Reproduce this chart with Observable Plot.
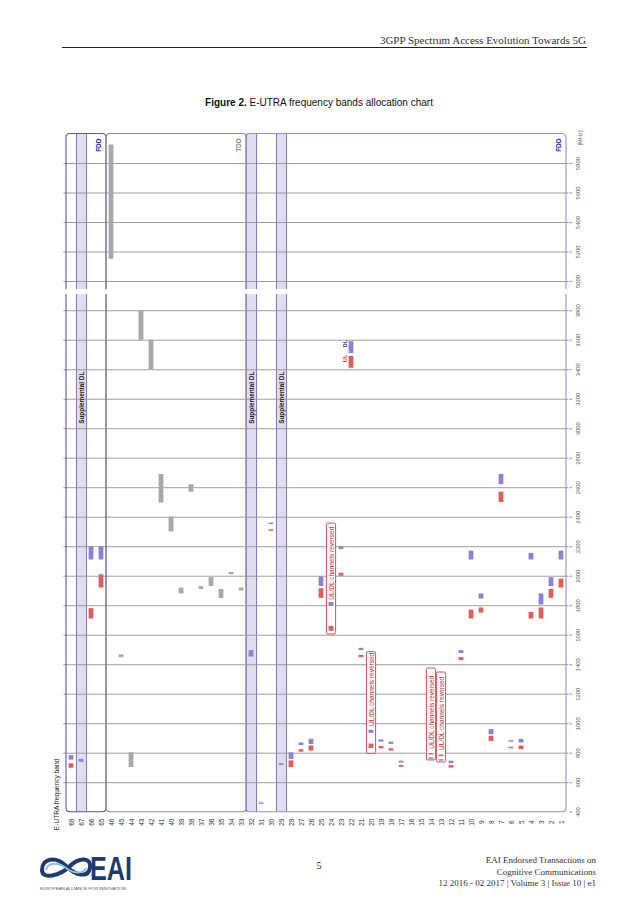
<!DOCTYPE html>
<html>
<head>
<meta charset="utf-8">
<script src="https://cdn.jsdelivr.net/npm/d3@7"></script>
<script src="https://cdn.jsdelivr.net/npm/@observablehq/plot@0.6"></script>
<style>
  html, body { margin: 0; padding: 0; background: #fff; overflow: hidden; }
  #page { position: relative; width: 638px; height: 903px; background: #fff; overflow: hidden; }
  .abs { position: absolute; }
  #header { right: 52px; top: 34px; font: 11px/12px "Liberation Serif", serif; color: #333; white-space: nowrap; }
  #hrule { left: 62px; top: 47px; width: 525px; height: 0; border-top: 1.5px solid #222; }
  #title { left: 0; top: 97px; width: 638px; text-align: center; font: 10px/12px "Liberation Sans", Arial, sans-serif; color: #111; }
  #upper { left: 0; top: 120px; }
  #lower { left: 0; top: 291px; }
  #pagenum { left: 0; top: 860px; width: 638px; text-align: center; font: 10px/12px "Liberation Serif", serif; color: #222; }
  #journal { right: 42px; top: 855px; text-align: right; font: 9px/11.5px "Liberation Serif", serif; color: #333; white-space: nowrap; }
  #logo { left: 36px; top: 846px; }
</style>
</head>
<body>
<div id="page">
  <div class="abs" id="header">3GPP Spectrum Access Evolution Towards 5G</div>
  <div class="abs" id="hrule"></div>
  <div class="abs" id="title"><b>Figure 2.</b> E-UTRA frequency bands allocation chart</div>
  <div class="abs" id="upper"></div>
  <div class="abs" id="lower"></div>
  <svg class="abs" id="logo" width="110" height="50" viewBox="0 0 110 50">
    <path d="M6,24 C6,12 20,10 30,20 C40,30 52,32 54,22 C56,12 44,10 34,20 C24,30 6,34 6,24 Z" fill="none" stroke="#1d3b6c" stroke-width="4"/>
    <path d="M10,24 C12,16 22,16 30,22 C38,28 48,28 50,22" fill="none" stroke="#8cc0e6" stroke-width="2"/>
    <text x="54" y="34" font-family="Liberation Sans, Arial" font-weight="bold" font-size="34" fill="#1d3b6c" textLength="42" lengthAdjust="spacingAndGlyphs">EAI</text>
    <text x="4" y="44" font-family="Liberation Sans, Arial" font-size="3.6" fill="#556" textLength="86" lengthAdjust="spacingAndGlyphs">EUROPEAN ALLIANCE FOR INNOVATION</text>
  </svg>
  <div class="abs" id="pagenum">5</div>
  <div class="abs" id="journal">EAI Endorsed Transactions on<br>Cognitive Communications<br>12 2016 - 02 2017 | Volume 3 | Issue 10 | e1</div>
</div>
<script>
// ---------------- data ----------------
const bandOrder = ["68","67","66","65","46","45","44","43","42","41","40","39","38","37","36","35","34","33","32","31","30","29","28","27","26","25","24","23","22","21","20","19","18","17","16","15","14","13","12","11","10","9","8","7","6","5","4","3","2","1"];

const fddLeftBands  = ["68","67","66","65"];
const tddBands      = ["46","45","44","43","42","41","40","39","38","37","36","35","34","33"];
const fddRightBands = ["32","31","30","29","28","27","26","25","24","23","22","21","20","19","18","17","16","15","14","13","12","11","10","9","8","7","6","5","4","3","2","1"];

// uplink (red)
const ulBands = ["1","2","3","4","5","6","7","8","9","10","11","12","13","14","17","18","19","20","21","22","23","24","25","26","27","28","30","31","65","66","68"];
const ulLow   = [1920,1850,1710,1710,824,830,2500,880,1750,1710,1428,699,777,788,704,815,830,832,1448,3410,2000,1626.5,1850,814,807,703,2305,452.5,1920,1710,698];
const ulHigh  = [1980,1910,1785,1755,849,840,2570,915,1785,1770,1448,716,787,798,716,830,845,862,1463,3490,2020,1660.5,1915,849,824,748,2315,457.5,2010,1780,728];

// downlink (purple)
const dlBands = ["1","2","3","4","5","6","7","8","9","10","11","12","13","14","17","18","19","20","21","22","23","24","25","26","27","28","29","30","31","32","65","66","67","68"];
const dlLow   = [2110,1930,1805,2110,869,875,2620,925,1845,2110,1476,729,746,758,734,860,875,935,1496,3510,2180,1795,1930,859,852,758,717,2350,462.5,1452,2110,2110,738,753];
const dlHigh  = [2170,1990,1880,2155,894,885,2690,960,1880,2170,1496,746,756,768,746,875,890,955,1511,3590,2200,1822,1995,894,869,803,728,2360,467.5,1496,2200,2200,758,783];

// TDD (grey)
const tddLow  = [5150,1447,703,3600,3400,2496,2300,1880,2570,1910,1930,1850,2010,1900];
const tddHigh = [5925,1467,803,3800,3600,2690,2400,1920,2620,1930,1990,1910,2025,1920];

// supplemental downlink columns
const sdlBands = ["67","32","29"];
const sdlLabel = "Supplemental DL";
const sdlLabelFreq = 3210;

// "UL/DL channels reversed" call-outs
const revBands     = ["24","20","14","13"];
const revLow       = [1605,796,751,737];
const revHigh      = [2357,1485,1374,1347];
const revTextStart = [1840,985,830,822];
const revLabel     = "UL/DL channels reversed";

const legendBand = "22";
const groupLabelText = ["FDD","TDD","FDD"];

const freqTicksLower = [400,600,800,1000,1200,1400,1600,1800,2000,2200,2400,2600,2800,3000,3200,3400,3600,3800];
const freqTicksUpper = [5000,5200,5400,5600,5800];
const lowerDomain = [400, 3910];
const upperDomain = [4945, 6000];

// ---------------- tables ----------------
const ulData  = ulBands.map((b,i) => ({band:b, lo:ulLow[i], hi:ulHigh[i]}));
const dlData  = dlBands.map((b,i) => ({band:b, lo:dlLow[i], hi:dlHigh[i]}));
const tddData = tddBands.map((b,i) => ({band:b, lo:tddLow[i], hi:tddHigh[i]}));
const revData = revBands.map((b,i) => ({band:b, lo:revLow[i], hi:revHigh[i], t:revTextStart[i]}));
const groups = [
  {bands: fddLeftBands,  stroke:"#5a55a6", label: groupLabelText[0], color:"#2323b5"},
  {bands: tddBands,      stroke:"#8e8e98", label: groupLabelText[1], color:"#8a8a8a"},
  {bands: fddRightBands, stroke:"#9591d0", label: groupLabelText[2], color:"#2323b5"}
];
const groupLabels = groups.map(g => ({band: g.bands[g.bands.length-1], text: g.label, color: g.color}));
const legendUL = ulData.filter(d => d.band === legendBand);
const legendDL = dlData.filter(d => d.band === legendBand);

const UL = "#e05d5d", DL = "#8e80d4", TDD = "#a8a8a8";
const inBand = dom => d => d.lo >= dom[0] && d.hi <= dom[1];

function frameMark(kind) {
  return (index, scales, values, dims) => {
    const {x, y} = scales;
    const bw = x.bandwidth();
    const g = d3.create("svg:g").attr("fill", "none");
    const top = dims.marginTop, bottom = dims.height - dims.marginBottom;
    const r = 4;
    for (const grp of groups) {
      const x0 = x(grp.bands[0]), x1 = x(grp.bands[grp.bands.length-1]) + bw;
      let d;
      if (kind === "upper") {
        const t = y(upperDomain[1]);
        d = `M${x0},${bottom}V${t+r}Q${x0},${t} ${x0+r},${t}H${x1-r}Q${x1},${t} ${x1},${t+r}V${bottom}`;
      } else {
        const b = y(lowerDomain[0]);
        d = `M${x0},${top}V${b-r}Q${x0},${b} ${x0+r},${b}H${x1-r}Q${x1},${b} ${x1},${b-r}V${top}`;
      }
      g.append("path").attr("d", d).attr("stroke", grp.stroke).attr("stroke-width", 1.1);
    }
    return g.node();
  };
}

const common = {
  width: 638,
  marginLeft: 63.25,
  marginRight: 69.75,
  x: {type: "band", domain: bandOrder, padding: 0, axis: null},
  style: {fontFamily: "Liberation Sans, Arial, sans-serif", background: "transparent"}
};

function sdlMarks(dom) {
  return [
    Plot.barY(sdlBands, {x: d => d, y1: dom[0], y2: dom[1], fill: "#e1ddef"}),
    Plot.ruleX(sdlBands, {x: d => d, y1: dom[0], y2: dom[1], dx: -5.05, stroke: "#7d75b9", strokeWidth: 1}),
    Plot.ruleX(sdlBands, {x: d => d, y1: dom[0], y2: dom[1], dx: 5.05, stroke: "#7d75b9", strokeWidth: 1})
  ];
}
function freqLabels(ticks) {
  return [
    Plot.axisY({anchor: "right", ticks, tickSize: 3, stroke: "#999", fill: "none", label: null, tickFormat: () => ""}),
    Plot.text(ticks, {y: d => d, frameAnchor: "right", dx: 9, rotate: -90, text: d => String(d), fontSize: 5.8, fill: "#555", textAnchor: "middle", lineAnchor: "middle"})
  ];
}

// ---------------- upper panel (5 GHz) ----------------
const upper = Plot.plot({
  ...common,
  height: 171,
  marginTop: 13.5,
  marginBottom: 1.9,
  y: {domain: upperDomain, axis: null},
  marks: [
    ...sdlMarks(upperDomain),
    Plot.gridY(freqTicksUpper, {stroke: "#939393", strokeOpacity: 1, strokeWidth: 0.9}),
    frameMark("upper"),
    Plot.barY(tddData.filter(inBand(upperDomain)), {x: "band", y1: "lo", y2: "hi", fill: TDD, insetLeft: 2.6, insetRight: 2.6}),
    Plot.text(groupLabels, {x: "band", frameAnchor: "top", dx: -3, dy: 4.5, rotate: -90, text: "text", textAnchor: "end", lineAnchor: "middle", fontSize: 6.5, fontWeight: "bold", fill: d => d.color}),
    ...freqLabels(freqTicksUpper),
    Plot.text(["[MHz]"], {frameAnchor: "top-right", dx: 9, dy: 4, rotate: -90, text: d => d, fontSize: 5.8, fill: "#666", textAnchor: "middle"})
  ]
});
document.getElementById("upper").appendChild(upper);

// ---------------- lower panel ----------------
const lower = Plot.plot({
  ...common,
  height: 545,
  marginTop: 3,
  marginBottom: 24.3,
  y: {domain: lowerDomain, axis: null},
  marks: [
    ...sdlMarks(lowerDomain),
    Plot.gridY(freqTicksLower.filter(t => t > lowerDomain[0]), {stroke: "#939393", strokeOpacity: 1, strokeWidth: 0.9}),
    frameMark("lower"),
    Plot.barY(revData, {x: "band", y1: "lo", y2: "hi", fill: "white", stroke: "#d43c3c", strokeWidth: 0.9, rx: 1.5, insetLeft: 0.4, insetRight: 0.4}),
    Plot.barY(tddData.filter(inBand(lowerDomain)), {x: "band", y1: "lo", y2: "hi", fill: TDD, insetLeft: 2.6, insetRight: 2.6}),
    Plot.barY(ulData, {x: "band", y1: "lo", y2: "hi", fill: UL, insetLeft: 2.6, insetRight: 2.6}),
    Plot.barY(dlData, {x: "band", y1: "lo", y2: "hi", fill: DL, insetLeft: 2.6, insetRight: 2.6}),
    Plot.text(revData, {x: "band", y: "t", rotate: -90, text: () => revLabel, textAnchor: "start", lineAnchor: "middle", fontSize: 6.5, fill: "#c62828"}),
    Plot.text(legendUL, {x: "band", y: d => (d.lo + d.hi) / 2, dx: -6, dy: -4, rotate: -90, text: () => "UL", fontSize: 5.8, fontWeight: "bold", fill: "#cc3333"}),
    Plot.text(legendDL, {x: "band", y: d => (d.lo + d.hi) / 2, dx: -6, dy: -4, rotate: -90, text: () => "DL", fontSize: 5.8, fontWeight: "bold", fill: "#3b3490"}),
    Plot.text(sdlBands, {x: d => d, y: () => sdlLabelFreq, rotate: -90, text: () => sdlLabel, fontSize: 6.4, fontWeight: "bold", fill: "#1a1a1a"}),
    Plot.text(bandOrder, {x: d => d, frameAnchor: "bottom", dy: 10, rotate: -90, text: d => d, fontSize: 6.5, fill: "#333", textAnchor: "middle", lineAnchor: "middle"}),
    ...freqLabels(freqTicksLower),
    Plot.text(["E-UTRA frequency band"], {frameAnchor: "bottom-left", dx: -5, dy: 18, rotate: -90, text: d => d, textAnchor: "start", fontSize: 6.6, fill: "#222"})
  ]
});
document.getElementById("lower").appendChild(lower);
</script>
</body>
</html>
